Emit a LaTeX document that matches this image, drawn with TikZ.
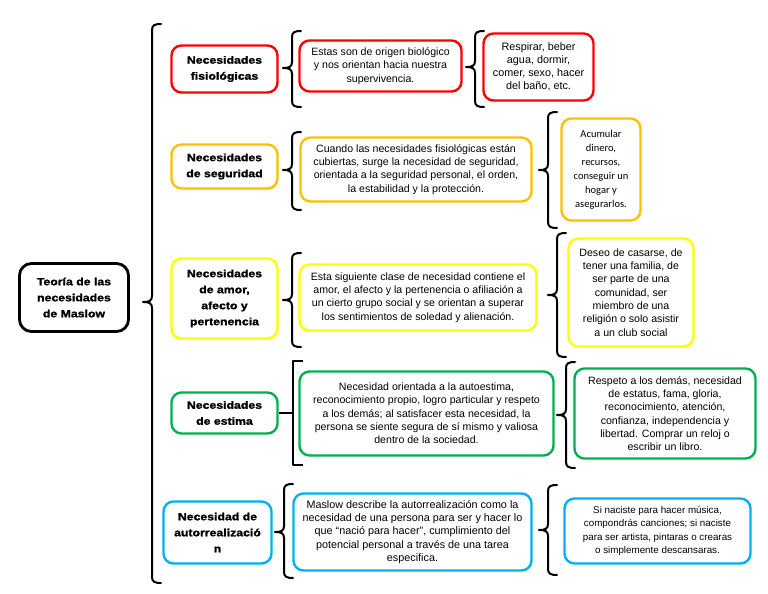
\documentclass[tikz,border=0pt]{standalone}
\usepackage{fontspec}
\setmainfont{Liberation Sans}
\newfontfamily\heavy{Liberation Sans}[UprightFont={* Bold},FakeStretch=1.17,FakeBold=1.5]
\newfontfamily\cali{Carlito}
\definecolor{cRed}{HTML}{FF0000}
\definecolor{cOra}{HTML}{FFC000}
\definecolor{cYel}{HTML}{FFFF00}
\definecolor{cGre}{HTML}{00B050}
\definecolor{cBlu}{HTML}{00B0F0}
\newcommand\Llave[4]{%
  \draw[brc] ({#1+9},#2) .. controls ({#1+3},#2) and (#1,{#2+1}) .. (#1,{#2+6})
    -- (#1,{#4-6}) .. controls (#1,{#4-1}) and ({#1-3},#4) .. ({#1-9},#4)
    .. controls ({#1-3},#4) and (#1,{#4+1}) .. (#1,{#4+6})
    -- (#1,{#3-6}) .. controls (#1,{#3-1}) and ({#1+3},#3) .. ({#1+9},#3);}
\begin{document}
\begin{tikzpicture}[x=1pt,y=-1pt,
  brc/.style={draw=black,line width=2pt,line cap=round,line join=round},
  box/.style={draw,line width=2.4pt,rounded corners=10pt,fill=white,inner sep=0pt,align=center,text=black},
  lvl/.style={box,font=\heavy\fontsize{10.5}{16}\selectfont},
  dsc/.style={box,font=\fontsize{10.6}{13.3}\selectfont},
]
\useasboundingbox (0,0) rectangle (768,594);
% root
\node[lvl,draw=black,line width=2.8pt,rounded corners=12pt,minimum width=109pt,minimum height=68pt] (root) at (74,297.5) {Teoría de las\\necesidades\\de Maslow};
% level 1
\node[lvl,draw=cRed,minimum width=106pt,minimum height=47pt] (fis) at (224.5,69) {Necesidades\\fisiológicas};
\node[lvl,draw=cOra,minimum width=106pt,minimum height=44pt] (seg) at (224.5,166.5) {Necesidades\\de seguridad};
\node[lvl,draw=cYel,minimum width=106pt,minimum height=80pt] (amor) at (224.5,298.5) {Necesidades\\de amor,\\afecto y\\pertenencia};
\node[lvl,draw=cGre,minimum width=106pt,minimum height=41pt] (est) at (224.5,413) {Necesidades\\de estima};
\node[lvl,draw=cBlu,minimum width=108pt,minimum height=62pt] (auto) at (217.5,532.5) {Necesidad de\\autorrealizació\\n};
% level 2
\node[dsc,draw=cRed,minimum width=162pt,minimum height=51pt] (fisD) at (380.5,66) {Estas son de origen biológico\\y nos orientan hacia nuestra\\supervivencia.};
\node[dsc,draw=cRed,font=\fontsize{10.8}{13}\selectfont,minimum width=110pt,minimum height=67pt] (fisE) at (538.5,67) {Respirar, beber\\agua, dormir,\\comer, sexo, hacer\\del baño, etc.};
\node[dsc,draw=cOra,minimum width=231pt,minimum height=64pt] (segD) at (416,169.5) {Cuando las necesidades fisiológicas están\\cubiertas, surge la necesidad de seguridad,\\orientada a la seguridad personal, el orden,\\la estabilidad y la protección.};
\node[dsc,draw=cOra,font=\cali\fontsize{10.5}{14}\selectfont,minimum width=79pt,minimum height=102pt] (segE) at (601,169.5) {Acumular\\dinero,\\recursos,\\conseguir un\\hogar y\\asegurarlos.};
\node[dsc,draw=cYel,minimum width=237pt,minimum height=66pt] (amorD) at (418,297.5) {Esta siguiente clase de necesidad contiene el\\amor, el afecto y la pertenencia o afiliación a\\un cierto grupo social y se orientan a superar\\los sentimientos de soledad y alienación.};
\node[dsc,draw=cYel,minimum width=125pt,minimum height=108pt] (amorE) at (631,292.5) {Deseo de casarse, de\\tener una familia, de\\ser parte de una\\comunidad, ser\\miembro de una\\religión o solo asistir\\a un club social};
\node[dsc,draw=cGre,minimum width=254pt,minimum height=84pt] (estD) at (426.5,413.5) {Necesidad orientada a la autoestima,\\reconocimiento propio, logro particular y respeto\\a los demás; al satisfacer esta necesidad, la\\persona se siente segura de sí mismo y valiosa\\dentro de la sociedad.};
\node[dsc,draw=cGre,minimum width=181pt,minimum height=90pt] (estE) at (665,413.5) {Respeto a los demás, necesidad\\de estatus, fama, gloria,\\reconocimiento, atención,\\confianza, independencia y\\libertad. Comprar un reloj o\\escribir un libro.};
\node[dsc,draw=cBlu,font=\fontsize{10.8}{13.3}\selectfont,minimum width=238pt,minimum height=77pt] (autoD) at (412.5,532) {Maslow describe la autorrealización como la\\necesidad de una persona para ser y hacer lo\\que “nació para hacer”, cumplimiento del\\potencial personal a través de una tarea\\especifica.};
\node[dsc,draw=cBlu,font=\fontsize{9.8}{13.3}\selectfont,minimum width=186pt,minimum height=65pt] (autoE) at (657.5,531) {Si naciste para hacer música,\\compondrás canciones; si naciste\\para ser artista, pintaras o crearas\\o simplemente descansaras.};
% braces
\Llave{152}{24}{583}{302}
\Llave{292}{31}{107}{68}
\Llave{475}{31}{107}{67}
\Llave{292}{132}{210}{170}
\Llave{548}{112}{228}{170}
\Llave{292}{253}{347}{300}
\Llave{557}{233}{357}{295}
\Llave{566}{362}{468}{415}
\Llave{284}{484}{578}{532}
\Llave{548}{485}{575}{530}
% square bracket for estima
\coordinate (estTip) at (293,413);
\draw[brc,line cap=butt] (303,361) -- (293,361) -- (293,465) -- (303,465);
\draw[brc,line cap=butt] (est.east) -- (estTip);
\end{tikzpicture}
\end{document}
